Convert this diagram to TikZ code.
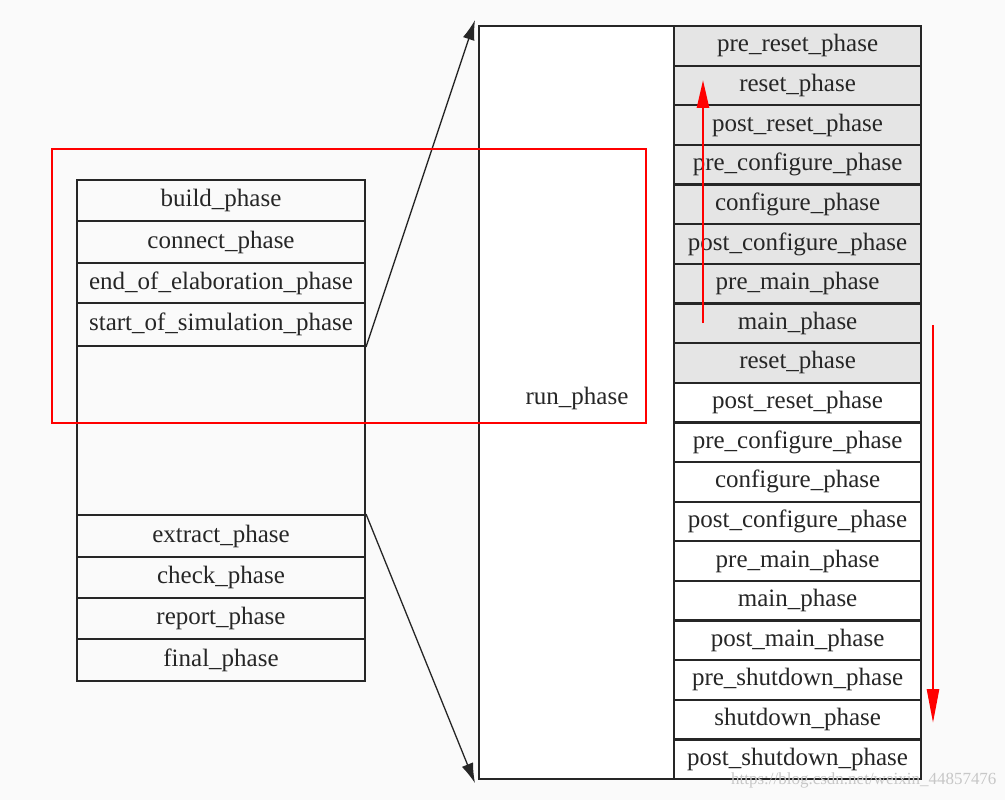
\documentclass[tikz,border=0pt]{standalone}
\usepackage{fontspec}
\setmainfont{Liberation Serif}
\begin{document}
\begin{tikzpicture}[x=1pt,y=-1pt,
  cell/.style={draw=black!85,line width=2.2pt,minimum width=247pt,minimum height=39.6pt,inner sep=0pt,font=\fontsize{25}{28}\selectfont,text=black!85},
  gcell/.style={cell,fill=black!10},
  lcell/.style={draw=black!85,line width=2pt,minimum width=288pt,inner sep=0pt,font=\fontsize{25}{28}\selectfont,text=black!85},
  redline/.style={draw=red,line width=2.6pt},
  conn/.style={draw=black!85,line width=1.3pt,-{Latex[length=20pt,width=12pt]}}]
\usetikzlibrary{arrows.meta}
\useasboundingbox (0,0) rectangle (1005,800);
\fill[black!2] (0,0) rectangle (1005,800);
% big box
\node[draw=black!85,line width=2.2pt,fill=white,minimum width=442pt,minimum height=753pt,inner sep=0pt,anchor=north west] (run) at (478,25) {};
\node[font=\fontsize{25}{28}\selectfont,text=black!85] (runl) at (577,398) {run\_phase};
\foreach \t [count=\i] in {pre\_reset\_phase,reset\_phase,post\_reset\_phase,pre\_configure\_phase,configure\_phase,post\_configure\_phase,pre\_main\_phase,main\_phase,reset\_phase}
  \node[gcell,anchor=north west] (g\i) at (673,{25+(\i-1)*39.63}) {\t};
\foreach \t [count=\i] in {post\_reset\_phase,pre\_configure\_phase,configure\_phase,post\_configure\_phase,pre\_main\_phase,main\_phase,post\_main\_phase,pre\_shutdown\_phase,shutdown\_phase,post\_shutdown\_phase}
  \node[cell,fill=white,anchor=north west] (w\i) at (673,{25+(\i+8)*39.63}) {\t};
% left box
\node[lcell,minimum height=41pt,anchor=north west] (b1) at (76,179) {build\_phase};
\node[lcell,minimum height=42pt,anchor=north west] (b2) at (76,220) {connect\_phase};
\node[lcell,minimum height=40pt,anchor=north west] (b3) at (76,262) {end\_of\_elaboration\_phase};
\node[lcell,minimum height=43pt,anchor=north west] (b4) at (76,302) {start\_of\_simulation\_phase};
\node[lcell,minimum height=169pt,anchor=north west] (b5) at (76,345) {};
\node[lcell,minimum height=42pt,anchor=north west] (b6) at (76,514) {extract\_phase};
\node[lcell,minimum height=41pt,anchor=north west] (b7) at (76,556) {check\_phase};
\node[lcell,minimum height=41pt,anchor=north west] (b8) at (76,597) {report\_phase};
\node[lcell,minimum height=42pt,anchor=north west] (b9) at (76,638) {final\_phase};
% connectors
\draw[conn] (b4.south east) -- ([xshift=-3pt,yshift=5pt]run.north west);
\draw[conn] (b6.north east) -- ([xshift=-3pt,yshift=-3pt]run.south west);
% red
\draw[redline] (52,149) rectangle (646,423);
\coordinate (u1) at (703,323); \coordinate (u2) at (703,80);
\coordinate (d1) at (933,325); \coordinate (d2) at (933,723);
\draw[redline,-{Triangle[length=28pt,width=12pt]}] (u1) -- (u2);
\draw[redline,-{Triangle[length=34pt,width=12pt]}] (d1) -- (d2);
\node[font=\fontsize{17}{19}\selectfont,text=black!22,anchor=east] (wm) at (1000,780) {https://blog.csdn.net/weixin\_44857476};
\end{tikzpicture}
\end{document}
